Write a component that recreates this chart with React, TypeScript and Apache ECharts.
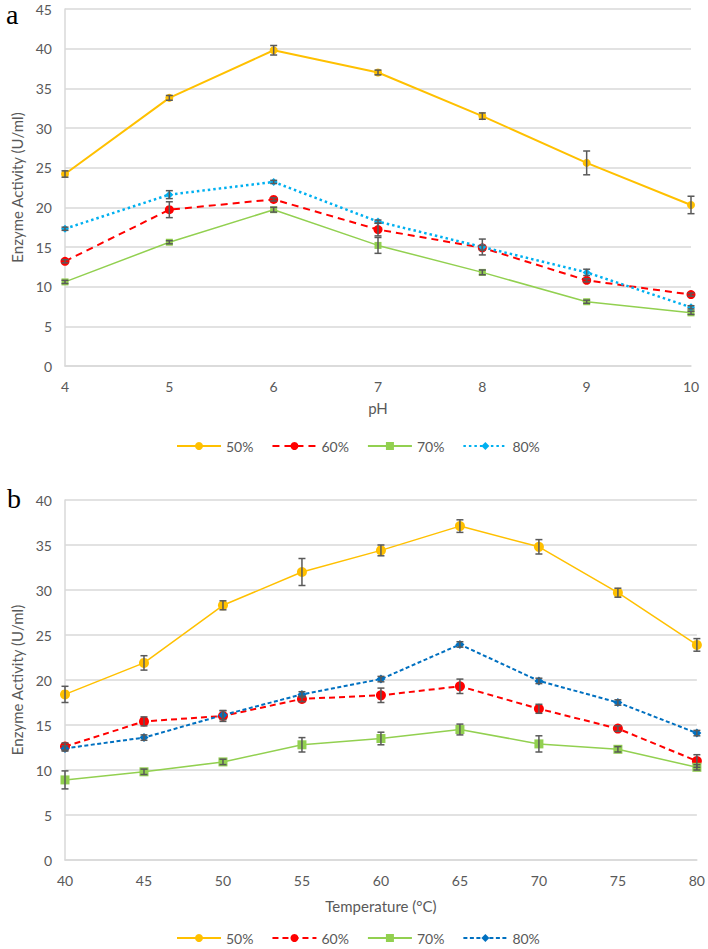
import React, { useEffect, useRef } from "react";
import * as echarts from "echarts";

// panel a: pH
const phValues = [4, 5, 6, 7, 8, 9, 10];
const ph50 = [24.2, 33.8, 39.8, 37.0, 31.5, 25.6, 20.3];
const ph50Err = [0.4, 0.3, 0.6, 0.3, 0.4, 1.5, 1.1];
const ph60 = [13.2, 19.7, 21.0, 17.2, 14.9, 10.8, 9.0];
const ph60Err = [0.2, 1.0, 0.2, 0.8, 0.3, 0.2, 0.2];
const ph70 = [10.6, 15.6, 19.7, 15.2, 11.8, 8.1, 6.7];
const ph70Err = [0.2, 0.2, 0.3, 1.0, 0.3, 0.2, 0.2];
const ph80 = [17.3, 21.6, 23.2, 18.2, 15.0, 11.8, 7.4];
const ph80Err = [0.2, 0.5, 0.2, 0.2, 1.0, 0.4, 0.2];

// panel b: temperature
const tempValues = [40, 45, 50, 55, 60, 65, 70, 75, 80];
const t50 = [18.4, 21.9, 28.3, 32.0, 34.4, 37.1, 34.8, 29.7, 23.9];
const t50Err = [0.9, 0.8, 0.5, 1.5, 0.6, 0.7, 0.8, 0.5, 0.7];
const t60 = [12.6, 15.4, 16.0, 17.9, 18.3, 19.3, 16.8, 14.6, 11.0];
const t60Err = [0.4, 0.5, 0.6, 0.3, 0.8, 0.8, 0.5, 0.3, 0.7];
const t70 = [8.9, 9.8, 10.9, 12.8, 13.5, 14.5, 12.9, 12.3, 10.3];
const t70Err = [1.0, 0.3, 0.3, 0.8, 0.7, 0.6, 0.9, 0.3, 0.3];
const t80 = [12.4, 13.6, 16.1, 18.4, 20.1, 23.95, 19.9, 17.5, 14.1];
const t80Err = [0.3, 0.3, 0.5, 0.3, 0.3, 0.3, 0.3, 0.3, 0.3];

const seriesNames = ["50%", "60%", "70%", "80%"];

const FONT = "Lato";
const GREY = "#595959";
const GRID_LINE = "#d9d9d9";

const pairs = (xs: number[], ys: number[]) => xs.map((x, i) => [x, ys[i]]);
const errRows = (xs: number[], ys: number[], es: number[]) =>
  xs.map((x, i) => [x, ys[i], es[i]]);

const errorBarRender = (params: any, api: any) => {
  const x = api.value(0);
  const y = api.value(1);
  const e = api.value(2);
  const top = api.coord([x, y + e]);
  const bot = api.coord([x, y - e]);
  const cap = 3.5;
  const style = { stroke: GREY, lineWidth: 1.5 };
  return {
    type: "group",
    children: [
      { type: "line", shape: { x1: top[0], y1: top[1], x2: bot[0], y2: bot[1] }, style },
      { type: "line", shape: { x1: top[0] - cap, y1: top[1], x2: top[0] + cap, y2: top[1] }, style },
      { type: "line", shape: { x1: bot[0] - cap, y1: bot[1], x2: bot[0] + cap, y2: bot[1] }, style },
    ],
  };
};

const App: React.FC = () => {
  const chartRef = useRef<HTMLDivElement>(null);

  useEffect(() => {
    document.body.style.margin = "0";
    if (!chartRef.current) return;
    const myChart = echarts.init(chartRef.current, null, { renderer: "svg" });

    const xAxisBase = (idx: number, min: number, max: number, interval: number, name: string, gap: number) => ({
      type: "value",
      gridIndex: idx,
      min,
      max,
      interval,
      name,
      nameLocation: "middle",
      nameGap: gap,
      nameTextStyle: { color: GREY, fontSize: 15, fontFamily: FONT },
      axisLine: { show: true, lineStyle: { color: GRID_LINE, width: 1.5 } },
      axisTick: { show: false },
      splitLine: { show: false },
      axisLabel: { color: GREY, fontSize: 14, fontFamily: FONT, margin: 13 },
    });

    const yAxisBase = (idx: number, max: number) => ({
      type: "value",
      gridIndex: idx,
      min: 0,
      max,
      interval: 5,
      name: "Enzyme Activity (U/ml)",
      nameLocation: "middle",
      nameGap: 36,
      nameTextStyle: { color: GREY, fontSize: 15, fontFamily: FONT },
      axisLine: { show: true, lineStyle: { color: GRID_LINE, width: 1.5 } },
      axisTick: { show: false },
      splitLine: { show: true, lineStyle: { color: GRID_LINE, width: 1.5 } },
      axisLabel: { color: GREY, fontSize: 14, fontFamily: FONT, margin: 13 },
    });

    const lineSeries = (
      name: string,
      idx: number,
      data: number[][],
      color: string,
      symbol: string,
      symbolSize: number,
      width: number,
      type: any
    ) => ({
      name,
      type: "line",
      xAxisIndex: idx,
      yAxisIndex: idx,
      data,
      symbol,
      symbolSize,
      showSymbol: true,
      itemStyle: { color },
      lineStyle: { color, width, type },
      z: 3,
    });

    const errSeries = (idx: number, data: number[][]) => ({
      type: "custom",
      xAxisIndex: idx,
      yAxisIndex: idx,
      data,
      encode: { x: 0, y: 1 },
      renderItem: errorBarRender,
      z: 4,
      silent: true,
    });

    const legendBase = (top: number, names: string[], strip: boolean) => ({
      top,
      left: 176,
      padding: 0,
      orient: "horizontal",
      itemWidth: 44,
      itemHeight: 10,
      itemGap: 18,
      data: names,
      formatter: strip ? (n: string) => n.slice(1) : (n: string) => n,
      textStyle: { color: GREY, fontSize: 14, fontFamily: FONT },
    });

    const bNames = seriesNames.map((n) => "b" + n);

    const option: any = {
      animation: false,
      backgroundColor: "#ffffff",
      grid: [
        { left: 65, width: 626, top: 9, height: 357 },
        { left: 65, width: 632, top: 500, height: 360 },
      ],
      xAxis: [
        xAxisBase(0, 4, 10, 1, "pH", 34),
        xAxisBase(1, 40, 80, 5, "Temperature (\u00B0C)", 38),
      ],
      yAxis: [yAxisBase(0, 45), yAxisBase(1, 40)],
      legend: [legendBase(439, seriesNames, false), legendBase(931, bNames, true)],
      graphic: [
        {
          type: "text",
          left: 6,
          top: 0,
          style: { text: "a", font: '28px "Liberation Serif"', fill: "#000" },
        },
        {
          type: "text",
          left: 7,
          top: 484,
          style: { text: "b", font: '28px "Liberation Serif"', fill: "#000" },
        },
      ],
      series: [
        lineSeries(seriesNames[0], 0, pairs(phValues, ph50), "#FFC000", "circle", 8, 2, "solid"),
        lineSeries(seriesNames[1], 0, pairs(phValues, ph60), "#FF0000", "circle", 9, 2, [7, 5]),
        lineSeries(seriesNames[2], 0, pairs(phValues, ph70), "#92D050", "rect", 7, 1.5, "solid"),
        lineSeries(seriesNames[3], 0, pairs(phValues, ph80), "#00B0F0", "diamond", 8, 2.5, [2.5, 3]),
        errSeries(0, errRows(phValues, ph50, ph50Err)),
        errSeries(0, errRows(phValues, ph60, ph60Err)),
        errSeries(0, errRows(phValues, ph70, ph70Err)),
        errSeries(0, errRows(phValues, ph80, ph80Err)),
        lineSeries(bNames[0], 1, pairs(tempValues, t50), "#FFC000", "circle", 10, 1.5, "solid"),
        lineSeries(bNames[1], 1, pairs(tempValues, t60), "#FF0000", "circle", 10, 2, [6, 4]),
        lineSeries(bNames[2], 1, pairs(tempValues, t70), "#92D050", "rect", 9, 1.5, "solid"),
        lineSeries(bNames[3], 1, pairs(tempValues, t80), "#0070C0", "diamond", 9, 2, [4, 2.5]),
        errSeries(1, errRows(tempValues, t50, t50Err)),
        errSeries(1, errRows(tempValues, t60, t60Err)),
        errSeries(1, errRows(tempValues, t70, t70Err)),
        errSeries(1, errRows(tempValues, t80, t80Err)),
      ],
    };

    myChart.setOption(option);

    return () => {
      myChart.dispose();
    };
  }, []);

  return <div ref={chartRef} style={{ width: "708px", height: "949px" }} />;
};

export default App;
